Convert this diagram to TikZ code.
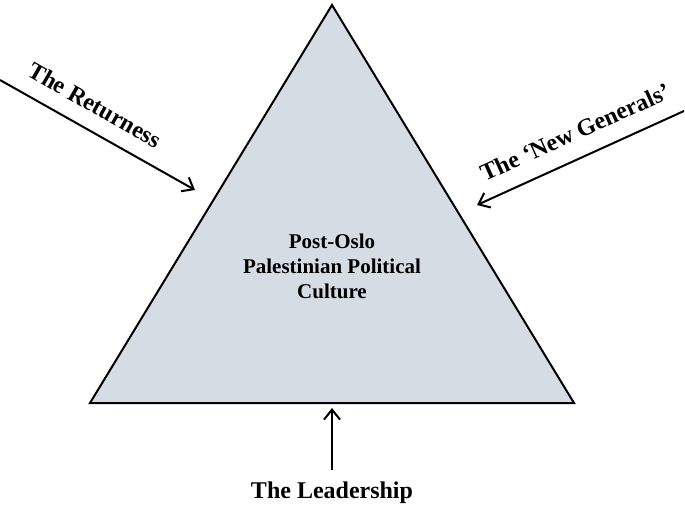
\documentclass[tikz,border=0pt]{standalone}
\usepackage{fontspec}
\setmainfont{Liberation Serif}
\usetikzlibrary{arrows.meta}
\begin{document}
\begin{tikzpicture}[x=1pt,y=-1pt,
  lbl/.style={font=\bfseries\fontsize{24}{26}\selectfont},
  arr/.style={line width=2pt,-{Straight Barb[length=10pt,width=16pt,line width=2pt]}}]
\useasboundingbox (0,0) rectangle (685,508);
\path[fill={rgb,255:red,214;green,220;blue,228},draw=black,line width=2pt]
  (332,5) coordinate (top) -- (90,403) coordinate (bl) -- (574,403) coordinate (br) -- cycle;
\node[align=center,font=\bfseries\fontsize{21}{25}\selectfont] (c) at (332,266) {Post-Oslo\\Palestinian Political\\Culture};
\coordinate (ls) at (0,80); \coordinate (le) at (195,190);
\coordinate (rs) at (684,111); \coordinate (re) at (477,205);
\coordinate (bs) at (332,470); \coordinate (be) at (332,408);
\draw[arr] (ls) -- (le);
\draw[arr] (rs) -- (re);
\draw[arr] (bs) -- (be);
\node[lbl,rotate=-29.5] (t1) at (95,105) {The Returness};
\node[lbl,rotate=24.3] (t2) at (575,132) {The ‘New Generals’};
\node[lbl] (t3) at (332,493) {The Leadership};
\end{tikzpicture}
\end{document}
